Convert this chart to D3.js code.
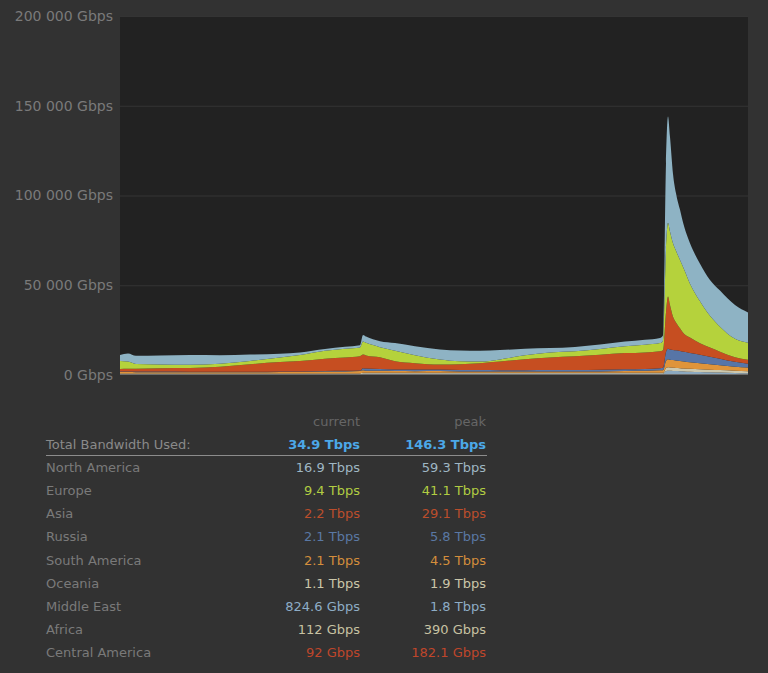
<!DOCTYPE html>
<html>
<head>
<meta charset="utf-8">
<script src="https://cdn.jsdelivr.net/npm/d3@7"></script>
<style>
  html, body { margin: 0; padding: 0; background: #323232; }
  svg { display: block; }
  text { font-family: "DejaVu Sans", Verdana, sans-serif; }
</style>
</head>
<body>
<svg id="traffic" width="768" height="673"></svg>
<script>
// sample times (hours into the week)
const hours = [0, 2.14, 4.28, 10.7, 18.73, 26.75, 34.78, 42.8, 48.15, 54.84, 60.19, 64.2,
  65.01, 65.81, 69.55, 73.57, 78.92, 85.61, 90.96, 96.31, 101.66, 108.34, 115.03, 121.72,
  128.41, 135.1, 140.45, 144.46, 145.26, 146.06, 146.6, 147.13, 147.94, 148.74, 149.81,
  150.88, 152.48, 155.16, 157.83, 160.51, 164.52, 168];

// Gbps per region
const northAmerica = [3300, 4500, 4600, 5000, 5400, 4800, 3600, 2000, 1400, 1000, 1200, 1300,
  3700, 3500, 3300, 4300, 5000, 5600, 6000, 6000, 5200, 3600, 2500, 2400, 2500, 2600, 2700,
  2800, 3000, 48000, 59300, 52800, 38600, 32000, 28000, 24000, 22500, 21000, 20000, 20100,
  18800, 16900];
const europe = [4400, 4000, 2600, 2000, 1800, 1600, 1800, 2600, 3400, 4400, 4800, 4800,
  7200, 7000, 5600, 5800, 4400, 2800, 1600, 900, 1200, 2200, 2700, 2800, 3200, 3800, 4300,
  4600, 5200, 35000, 41100, 41000, 40900, 40000, 38000, 36000, 30000, 23400, 17700, 13900,
  10200, 9400];
const asia = [1400, 1500, 1600, 1900, 2100, 2800, 4200, 5200, 5800, 6900, 7500, 8000,
  7600, 7300, 6600, 4600, 3600, 2800, 3200, 3800, 4800, 6100, 7000, 7600, 8400, 9000, 9200,
  9400, 9800, 22000, 29100, 24700, 18500, 15500, 12600, 10000, 8600, 6300, 5100, 3900,
  2600, 2200];
const russia = [300, 300, 300, 300, 300, 300, 300, 300, 300, 300, 300, 300,
  1200, 1200, 1000, 900, 850, 800, 800, 800, 800, 800, 800, 850, 900, 1000, 1100,
  1200, 1300, 5000, 5800, 5700, 5600, 5600, 5600, 5400, 5200, 4800, 4200, 3700,
  2700, 2100];
const southAmerica = [840, 840, 740, 740, 640, 640, 640, 840, 840, 1040, 1140, 1340,
  1400, 1200, 1100, 1000, 950, 1000, 800, 800, 700, 700, 800, 750, 800, 1000, 1100,
  1400, 1500, 4000, 4500, 4400, 4300, 4200, 4000, 3900, 3600, 3300, 3000, 2700,
  2300, 2100];
const oceania = [400, 400, 400, 400, 400, 400, 400, 400, 400, 400, 400, 400,
  550, 550, 550, 550, 550, 550, 550, 550, 550, 550, 550, 550, 550, 550, 550,
  550, 550, 1700, 1900, 1850, 1800, 1750, 1700, 1650, 1600, 1500, 1400, 1300,
  1200, 1100];
const middleEast = [350, 350, 350, 350, 350, 350, 350, 350, 350, 350, 350, 350,
  500, 500, 500, 500, 500, 500, 500, 500, 500, 500, 500, 500, 500, 500, 500,
  500, 500, 1600, 1800, 1750, 1700, 1650, 1600, 1500, 1400, 1300, 1200, 1100,
  900, 820];
const africa = [60, 60, 60, 60, 60, 60, 60, 60, 60, 60, 60, 60,
  80, 80, 80, 80, 80, 80, 80, 80, 80, 80, 80, 80, 80, 80, 80,
  80, 80, 350, 390, 380, 370, 360, 350, 340, 320, 280, 240, 200,
  150, 112];
const centralAmerica = [50, 50, 50, 50, 50, 50, 50, 50, 50, 50, 50, 50,
  70, 70, 70, 70, 70, 70, 70, 70, 70, 70, 70, 70, 70, 70, 70,
  70, 70, 170, 182, 180, 170, 170, 160, 160, 150, 140, 130, 120,
  100, 92];

// table, top to bottom
const regions = ['North America', 'Europe', 'Asia', 'Russia', 'South America',
  'Oceania', 'Middle East', 'Africa', 'Central America'];
const currentLabels = ['16.9 Tbps', '9.4 Tbps', '2.2 Tbps', '2.1 Tbps', '2.1 Tbps',
  '1.1 Tbps', '824.6 Gbps', '112 Gbps', '92 Gbps'];
const peakLabels = ['59.3 Tbps', '41.1 Tbps', '29.1 Tbps', '5.8 Tbps', '4.5 Tbps',
  '1.9 Tbps', '1.8 Tbps', '390 Gbps', '182.1 Gbps'];
const totalCurrent = '34.9 Tbps';
const totalPeak = '146.3 Tbps';
const yTicks = [0, 50000, 100000, 150000, 200000];

const areaColors = ['#8eb3c4', '#b5d23c', '#c64e21', '#5775a7', '#df943a',
  '#cdc8ae', '#8ca9c0', '#c5bd97', '#a35a45'];
const textColors = ['#9fb7c4', '#b1cd42', '#bb4e2c', '#5a78a4', '#d48e3c',
  '#cbc6a9', '#8eadc6', '#c8c2a2', '#bf462b'];

const series = [northAmerica, europe, asia, russia, southAmerica, oceania,
  middleEast, africa, centralAmerica];

const rows = hours.map((h, i) => {
  const row = { h };
  regions.forEach((r, k) => { row[r] = series[k][i]; });
  return row;
});

const svg = d3.select('svg#traffic');
const plot = { left: 120, right: 748, top: 16, bottom: 375 };

const x = d3.scaleLinear().domain([0, 168]).range([plot.left, plot.right]);
const y = d3.scaleLinear().domain([0, 200000]).range([plot.bottom, plot.top]);

svg.append('rect')
  .attr('x', plot.left).attr('y', plot.top)
  .attr('width', plot.right - plot.left).attr('height', plot.bottom - plot.top)
  .attr('fill', '#222222');

// grid
svg.append('g')
  .selectAll('line')
  .data(yTicks.slice(1))
  .enter()
  .append('line')
  .attr('x1', plot.left).attr('x2', plot.right)
  .attr('y1', d => y(d) + 0.5).attr('y2', d => y(d) + 0.5)
  .attr('stroke', '#343434');

// stacked areas, bottom layer = last region
const keys = regions.slice().reverse();
const stack = d3.stack().keys(keys)(rows);
const area = d3.area()
  .curve(d3.curveMonotoneX)
  .x(d => x(d.data.h))
  .y0(d => y(d[0]))
  .y1(d => y(d[1]));

svg.append('g')
  .selectAll('path')
  .data(stack)
  .enter()
  .append('path')
  .attr('fill', d => areaColors[regions.indexOf(d.key)])
  .attr('d', area);

svg.append('line')
  .attr('x1', plot.left).attr('x2', plot.right)
  .attr('y1', plot.bottom - 0.5).attr('y2', plot.bottom - 0.5)
  .attr('stroke', '#6e6e6e');

// y axis
const fmt = d3.formatLocale({ decimal: '.', thousands: ' ', grouping: [3], currency: ['', ''] }).format(',');
const yAxis = d3.axisLeft(y)
  .tickValues(yTicks)
  .tickSize(0)
  .tickPadding(7)
  .tickFormat(d => fmt(d) + ' Gbps');

svg.append('g')
  .attr('transform', `translate(${plot.left},0)`)
  .call(yAxis)
  .call(g => g.select('.domain').remove())
  .selectAll('text')
  .attr('fill', '#7a7a7a')
  .style('font-size', '14px')
  .style('font-family', '"DejaVu Sans", Verdana, sans-serif');

// table
const tbl = { left: 46, cur: 360, peak: 486, header: 421, first: 444, step: 23.1 };
const table = svg.append('g').style('font-size', '13px');

table.append('text').attr('x', tbl.cur).attr('y', tbl.header + 5)
  .attr('text-anchor', 'end').attr('fill', '#666').text('current');
table.append('text').attr('x', tbl.peak).attr('y', tbl.header + 5)
  .attr('text-anchor', 'end').attr('fill', '#666').text('peak');

table.append('text').attr('x', tbl.left).attr('y', tbl.first + 5)
  .attr('fill', '#8a8a8a').text('Total Bandwidth Used:');
table.append('text').attr('x', tbl.cur).attr('y', tbl.first + 5)
  .attr('text-anchor', 'end').attr('fill', '#4ca8e8').attr('font-weight', 'bold').text(totalCurrent);
table.append('text').attr('x', tbl.peak).attr('y', tbl.first + 5)
  .attr('text-anchor', 'end').attr('fill', '#4ca8e8').attr('font-weight', 'bold').text(totalPeak);

table.append('line')
  .attr('x1', tbl.left).attr('x2', tbl.peak + 1)
  .attr('y1', 455.5).attr('y2', 455.5)
  .attr('stroke', '#8c8c8c');

const rowG = table.selectAll('g.row')
  .data(regions)
  .enter()
  .append('g')
  .attr('class', 'row')
  .attr('transform', (d, i) => `translate(0,${tbl.first + (i + 1) * tbl.step + 5})`);

rowG.append('text').attr('x', tbl.left).attr('fill', '#7a7a7a').text(d => d);
rowG.append('text').attr('x', tbl.cur).attr('text-anchor', 'end')
  .attr('fill', (d, i) => textColors[i]).text((d, i) => currentLabels[i]);
rowG.append('text').attr('x', tbl.peak).attr('text-anchor', 'end')
  .attr('fill', (d, i) => textColors[i]).text((d, i) => peakLabels[i]);
</script>
</body>
</html>
